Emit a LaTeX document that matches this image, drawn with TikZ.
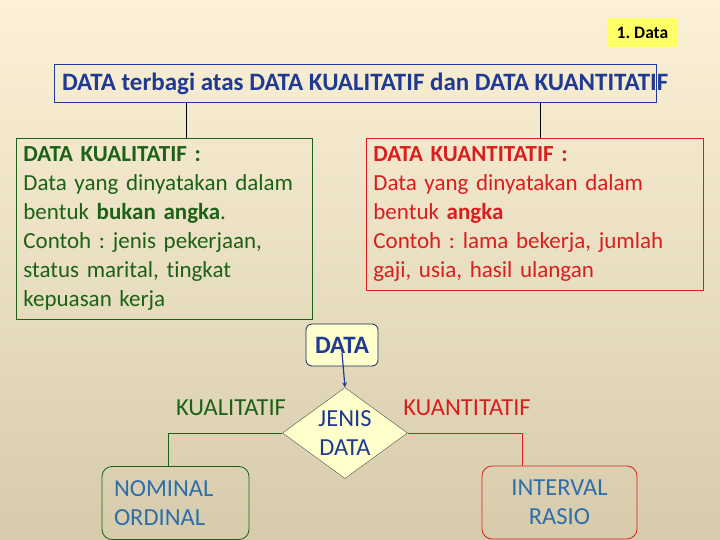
\documentclass[tikz,border=0pt]{standalone}
\usepackage{fontspec}
\setmainfont{Carlito}[Ligatures=NoCommon]
\usetikzlibrary{shapes.geometric}
\definecolor{latatas}{RGB}{252,241,214}
\definecolor{latbawah}{RGB}{214,204,172}
\definecolor{biru}{RGB}{31,58,147}
\definecolor{birumuda}{RGB}{46,110,170}
\definecolor{hijau}{RGB}{28,98,22}
\definecolor{merah}{RGB}{218,30,30}
\definecolor{kuning}{RGB}{255,255,204}
\definecolor{stabilo}{RGB}{255,255,102}
\frenchspacing
\begin{document}
\begin{tikzpicture}[x=1pt,y=-1pt,>=stealth,line join=round,
	teks/.style={font=\fontsize{23}{29}\selectfont},
	besar/.style={font=\fontsize{24.5}{29}\selectfont},
	kotak/.style={draw,line width=0.8pt,inner sep=7pt,anchor=north west,align=left,teks},
	bulat/.style={draw,line width=0.8pt,rounded corners=10pt,besar}]
	\shade[top color=latatas,bottom color=latbawah] (0,0) rectangle (720,540);
	\useasboundingbox (0,0) rectangle (720,540);
	\node[fill=stabilo,minimum width=71pt,minimum height=29pt,font=\bfseries\fontsize{17.5}{20}\selectfont] (label) at (642.5,32.5) {1. Data};
	\node[draw=biru,line width=0.8pt,text=biru,minimum width=602pt,minimum height=37pt,inner sep=8pt,font=\bfseries\fontsize{25}{29}\selectfont] (judul) at (355,83.5) {\makebox[586pt][l]{DATA terbagi atas DATA KUALITATIF dan DATA KUANTITATIF}};
	\node[kotak,draw=hijau,text=hijau,minimum width=296pt,minimum height=181pt,text width=282pt] (kual) at (16,138)
		{\textbf{DATA KUALITATIF :}\\ Data yang dinyatakan dalam\\ bentuk \textbf{bukan angka}.\\ Contoh : jenis pekerjaan,\\ status marital, tingkat\\ kepuasan kerja};
	\node[kotak,draw=merah,text=merah,minimum width=337pt,minimum height=152pt,text width=323pt] (kuan) at (366,138)
		{\textbf{DATA KUANTITATIF :}\\ Data yang dinyatakan dalam\\ bentuk \textbf{angka}\\ Contoh : lama bekerja, jumlah\\ gaji, usia, hasil ulangan};
	\coordinate (kiri) at (186,0);
	\coordinate (kanan) at (540,0);
	\draw[line width=0.6pt] (kiri |- judul.south) -- (kiri |- kual.north);
	\draw[line width=0.6pt] (kanan |- judul.south) -- (kanan |- kuan.north);
	\node[bulat,draw=biru!70!black,fill=kuning,text=biru,font=\bfseries\fontsize{25}{29}\selectfont,minimum width=72pt,minimum height=42pt,rounded corners=6pt] (data) at (342,345) {DATA};
	\node[diamond,draw=gray!60!black,fill=kuning,text=biru,align=center,besar,minimum width=125pt,minimum height=91pt,inner sep=0pt,aspect=1.37] (jenis) at (345,433) {JENIS\\DATA};
	\draw[->,biru,line width=1.2pt] (data.base) -- (jenis.north);
	\node[besar,text=hijau] (lkual) at (231,408) {KUALITATIF};
	\node[besar,text=merah] (lkuan) at (467,408) {KUANTITATIF};
	\node[bulat,draw=hijau,text=birumuda,minimum width=147pt,minimum height=73pt,text width=123pt,inner sep=12pt,align=left] (nominal) at (175.5,503) {NOMINAL\\ORDINAL};
	\node[bulat,draw=merah,text=birumuda,minimum width=155pt,minimum height=73pt,align=center] (interval) at (559.5,502.5) {INTERVAL\\RASIO};
	\draw[hijau,line width=0.8pt] (jenis.west) -| ([xshift=-7.5pt]nominal.north);
	\draw[merah,line width=0.8pt] (jenis.east) -| ([xshift=-37.5pt]interval.north);
\end{tikzpicture}
\end{document}
